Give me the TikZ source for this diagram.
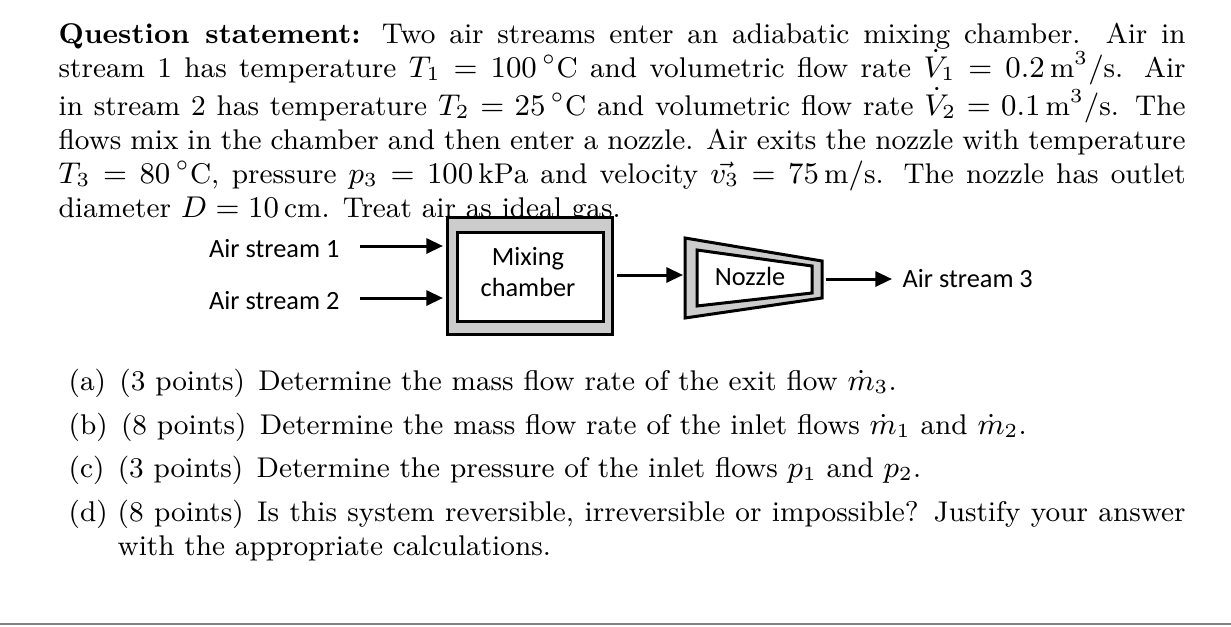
\documentclass[tikz,border=0pt]{standalone}
\usepackage{amsmath}
\usepackage{fontspec}
\newfontfamily\diag{Carlito}
\usetikzlibrary{arrows.meta}
\tikzset{flow/.style={line width=0.9pt,-{Triangle[length=5pt,width=4.5pt]}},
 wall/.style={draw=black,line width=0.9pt,fill=gray!40},
 inner/.style={draw=black,line width=0.9pt,fill=white},
 lab/.style={font=\diag\fontsize{7.9}{9.4}\selectfont,inner sep=0pt,align=center},
 txt/.style={inner sep=0pt,font=\fontsize{8.55}{10.2}\selectfont}}
\begin{document}
\begin{tikzpicture}[x=0.3pt,y=-0.3pt]
\useasboundingbox (0,0) rectangle (1231,626);
\draw[gray,line width=0.5pt] (0,624) -- (1231,624);
\node[txt,anchor=north west,text width=338.1pt,align=justify] (stmt) at (58,22)
{\textbf{Question statement:} Two air streams enter an adiabatic mixing chamber. Air in stream 1 has temperature $T_1=100\,^\circ\mathrm{C}$ and volumetric flow rate $\dot V_1=0.2\,\mathrm{m^3/s}$. Air in stream 2 has temperature $T_2=25\,^\circ\mathrm{C}$ and volumetric flow rate $\dot V_2=0.1\,\mathrm{m^3/s}$. The flows mix in the chamber and then enter a nozzle. Air exits the nozzle with temperature $T_3=80\,^\circ\mathrm{C}$, pressure $p_3=100\,\mathrm{kPa}$ and velocity $\vec{v_3}=75\,\mathrm{m/s}$. The nozzle has outlet diameter $D=10\,\mathrm{cm}$. Treat air as ideal gas.};
% diagram
\draw[wall] (447,217) rectangle (612,334);
\draw[inner] (457,232) rectangle (603,321);
\node[lab] (mix) at (528,272) {Mixing\\chamber};
\draw[wall] (685,238) -- (822,261) -- (822,298) -- (685,318) -- cycle;
\draw[inner] (697,250) -- (812,266) -- (812,293) -- (697,306) -- cycle;
\node[lab] (noz) at (750,276) {Nozzle};
\node[lab,anchor=east] (a1) at (340,249) {Air stream 1};
\node[lab,anchor=east] (a2) at (340,301) {Air stream 2};
\node[lab,anchor=west] (a3) at (902,279) {Air stream 3};
\coordinate (m1) at (443,246); \coordinate (m2) at (443,298);
\coordinate (mo) at (612,275); \coordinate (ni) at (683,275);
\coordinate (no) at (822,279);
\draw[flow] (360,246) -- (m1);
\draw[flow] (360,298) -- (m2);
\draw[flow] (mo) ++(5,0) -- (ni);
\draw[flow] (no) ++(4,0) -- (892,279);
% items
\node[txt,anchor=base west] (ia) at (68,390) {(a)\hspace{4pt}(3 points)\hspace{4pt}Determine the mass flow rate of the exit flow $\dot m_3$.};
\node[txt,anchor=base west] (ib) at (68,434) {(b)\hspace{4pt}(8 points)\hspace{4pt}Determine the mass flow rate of the inlet flows $\dot m_1$ and $\dot m_2$.};
\node[txt,anchor=base west] (ic) at (68,477) {(c)\hspace{4pt}(3 points)\hspace{4pt}Determine the pressure of the inlet flows $p_1$ and $p_2$.};
\node[txt,anchor=base west] (id) at (68,521) {\makebox[14.7pt][l]{(d)}\parbox[t]{320.4pt}{\fontsize{8.55}{10.2}\selectfont (8 points)\hspace{4pt}Is this system reversible, irreversible or impossible? Justify your answer with the appropriate calculations.}};
\end{tikzpicture}
\end{document}
